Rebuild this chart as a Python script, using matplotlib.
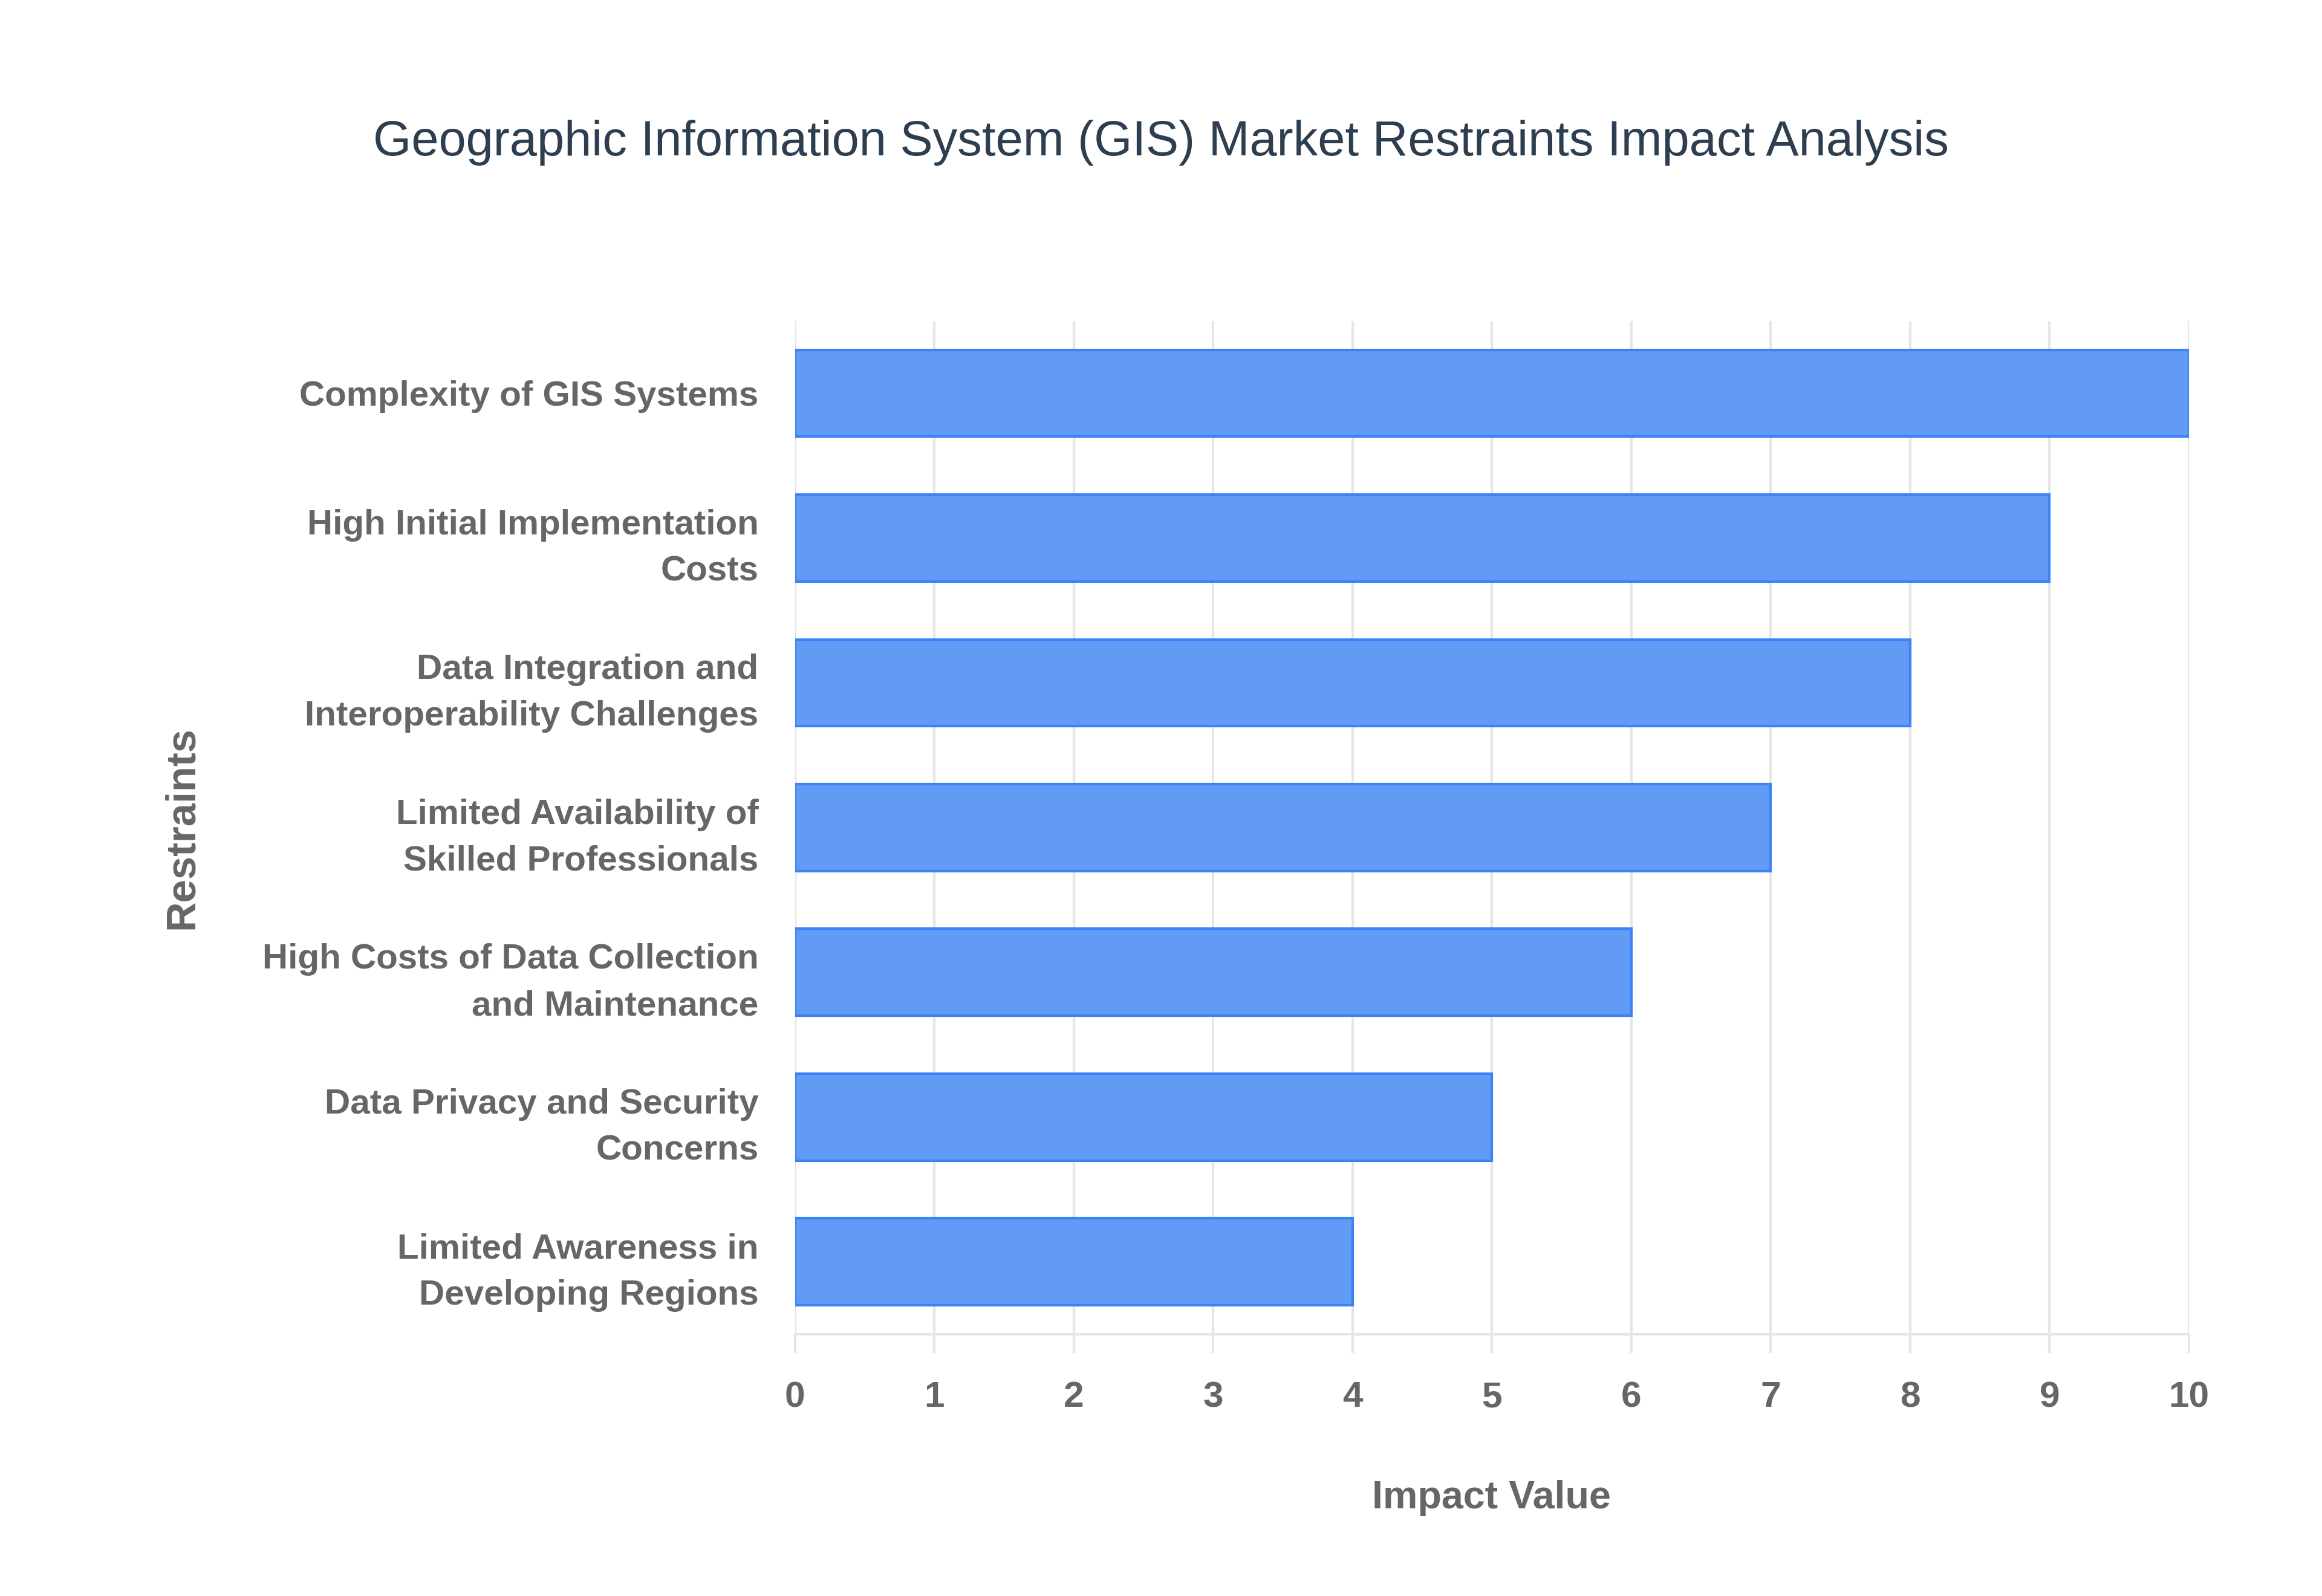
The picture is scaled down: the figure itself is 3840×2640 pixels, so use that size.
import matplotlib
matplotlib.use("Agg")
import matplotlib.pyplot as plt

# data, top to bottom as shown
restraints = [
    "Complexity of GIS Systems",
    "High Initial Implementation\nCosts",
    "Data Integration and\nInteroperability Challenges",
    "Limited Availability of\nSkilled Professionals",
    "High Costs of Data Collection\nand Maintenance",
    "Data Privacy and Security\nConcerns",
    "Limited Awareness in\nDeveloping Regions",
]
impact = [10, 9, 8, 7, 6, 5, 4]
x_ticks = [0, 1, 2, 3, 4, 5, 6, 7, 8, 9, 10]

title = "Geographic Information System (GIS) Market Restraints Impact Analysis"
x_title = "Impact Value"
y_title = "Restraints"

label_font = ["Liberation Sans", "DejaVu Sans"]
grey = "#666666"
grid_c = "#e6e6e6"

fig = plt.figure(figsize=(12.8, 8.8), dpi=300)
ax = fig.add_axes([0.3424, 0.164, 0.6003, 0.635])

y = list(range(len(restraints)))
ax.barh(y, impact, height=0.6, color="#629bf6",
        edgecolor="#3b82f6", linewidth=1.0, zorder=3)

ax.set_xlim(0, 10)
ax.set_ylim(len(restraints) - 0.5, -0.5)
ax.set_xticks(x_ticks)
ax.set_yticks(y)
ax.set_yticklabels(restraints)

ax.grid(axis="x", color=grid_c, linewidth=1.0, zorder=0)
for side in ["top", "right", "left"]:
    ax.spines[side].set_visible(False)
ax.spines["bottom"].set_color(grid_c)
ax.spines["bottom"].set_linewidth(1.0)

ax.tick_params(axis="x", length=7.5, width=1.0, color=grid_c, pad=11,
               labelsize=14.5, labelcolor=grey)
ax.tick_params(axis="y", length=0, pad=14.5, labelsize=14, labelcolor=grey)
for lab in ax.get_xticklabels() + ax.get_yticklabels():
    lab.set_fontfamily(label_font)
    lab.set_fontweight("bold")
for lab in ax.get_yticklabels():
    lab.set_linespacing(1.55)

fig.text(0.5, 0.9105, title, ha="center", va="center",
         fontsize=19.5, family=label_font, color="#2c3e50")
fig.text(0.6424, 0.0614, x_title, ha="center", va="center",
         fontsize=15.5, family=label_font, fontweight="bold", color=grey)
fig.text(0.0784, 0.4814, y_title, ha="center", va="center", rotation=90,
         fontsize=16.5, family=label_font, fontweight="bold", color=grey)

fig.savefig("out.png", dpi=300, facecolor="white")
